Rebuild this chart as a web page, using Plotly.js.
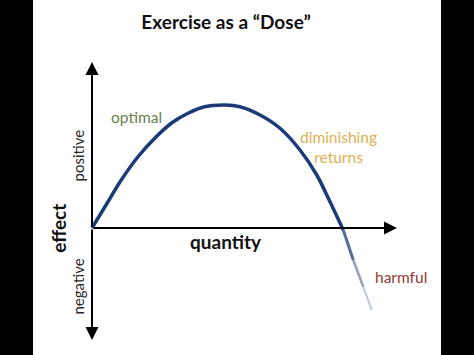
<!DOCTYPE html>
<html>
<head>
<meta charset="utf-8">
<script src="https://cdn.plot.ly/plotly-3.0.1.min.js"></script>
<style>html,body{margin:0;padding:0;background:#fff;}#chart{width:474px;height:355px;}</style>
</head>
<body>
<div id="chart"></div>
<script>
// Hand-drawn dose-response curve (quantity vs effect)
var quantity = [0, 0.64, 1.17, 1.84, 2.51, 3.17, 3.84, 4.51, 5.31, 5.92, 6.72, 7.52, 8.32, 8.99, 9.52, 10.05, 10.45, 10.85, 11.19];
var effect   = [0, 1.05, 1.92, 2.85, 3.59, 4.19, 4.59, 4.85, 4.92, 4.85, 4.52, 3.99, 3.12, 2.12, 1.05, -0.08, -1.28, -2.35, -3.28];
var titleText = 'Exercise as a \u201cDose\u201d';
var xLabel = 'quantity';
var yLabel = 'effect';
var regionLabels = ['optimal', 'diminishing<br>returns', 'harmful'];
var regionX = [1.79, 9.84, 12.36];
var regionY = [4.45, 3.26, -1.95];
var regionColors = ['#66804a', '#e0b052', '#963a31'];
var signLabels = ['positive', 'negative'];
var signY = [2.88, -2.36];

var curveColor = '#1c3a78';
var FONT = 'Lato, "Open Sans", sans-serif';

var mainEnd = 16; // index after axis crossing
var traces = [
  {x: quantity.slice(0, mainEnd), y: effect.slice(0, mainEnd), mode: 'lines',
   line: {color: curveColor, width: 3.5, shape: 'spline'}, hoverinfo: 'skip'},
  {x: quantity.slice(mainEnd - 1, mainEnd + 1), y: effect.slice(mainEnd - 1, mainEnd + 1), mode: 'lines',
   line: {color: curveColor, width: 3}, opacity: 0.75, hoverinfo: 'skip'},
  {x: quantity.slice(mainEnd, mainEnd + 2), y: effect.slice(mainEnd, mainEnd + 2), mode: 'lines',
   line: {color: '#4a6090', width: 2.5}, opacity: 0.6, hoverinfo: 'skip'},
  {x: quantity.slice(mainEnd + 1), y: effect.slice(mainEnd + 1), mode: 'lines',
   line: {color: '#7d8fb0', width: 2}, opacity: 0.5, hoverinfo: 'skip'}
];

var annotations = [];
function arrow(x, y, ax, ay) {
  annotations.push({x: x, y: y, ax: ax, ay: ay, xref: 'x', yref: 'y', axref: 'x', ayref: 'y',
    showarrow: true, arrowhead: 2, arrowsize: 1.3, arrowwidth: 2, arrowcolor: '#000', text: ''});
}
arrow(0, 6.64, 0, 0);
arrow(0, -4.48, 0, 0);
arrow(12.2, 0, 0, 0);

for (var i = 0; i < regionLabels.length; i++) {
  annotations.push({x: regionX[i], y: regionY[i], xref: 'x', yref: 'y', text: regionLabels[i],
    showarrow: false, font: {family: FONT, size: 15.5, color: regionColors[i]}, align: 'center'});
}
for (var j = 0; j < signLabels.length; j++) {
  annotations.push({x: -0.58, y: signY[j], xref: 'x', yref: 'y', text: signLabels[j], textangle: -90,
    showarrow: false, font: {family: FONT, size: 15, color: '#2a2a2a'}});
}
annotations.push({x: 5.34, y: -0.55, xref: 'x', yref: 'y', text: '<b>' + xLabel + '</b>', showarrow: false,
  font: {family: FONT, size: 19, color: '#111'}});
annotations.push({x: -1.37, y: 0, xref: 'x', yref: 'y', text: '<b>' + yLabel + '</b>', textangle: -90, showarrow: false,
  font: {family: FONT, size: 19, color: '#111'}});

var layout = {
  width: 474, height: 355,
  margin: {l: 0, r: 0, t: 0, b: 0},
  paper_bgcolor: '#fff', plot_bgcolor: '#fff',
  showlegend: false,
  title: {text: '<b>' + titleText + '</b>', x: 0.477, y: 0.936, xanchor: 'center', yanchor: 'middle',
    font: {family: FONT, size: 19, color: '#111'}},
  xaxis: {range: [-3.68, 15.28], visible: false, fixedrange: true},
  yaxis: {range: [-5.08, 9.12], visible: false, fixedrange: true},
  shapes: [
    {type: 'rect', xref: 'paper', yref: 'paper', x0: 0, x1: 33 / 474, y0: 0, y1: 1, fillcolor: '#000', line: {width: 0}, layer: 'above'},
    {type: 'rect', xref: 'paper', yref: 'paper', x0: 441 / 474, x1: 1, y0: 0, y1: 1, fillcolor: '#000', line: {width: 0}, layer: 'above'}
  ],
  annotations: annotations
};

Plotly.newPlot('chart', traces, layout, {displayModeBar: false, staticPlot: true});
</script>
</body>
</html>
